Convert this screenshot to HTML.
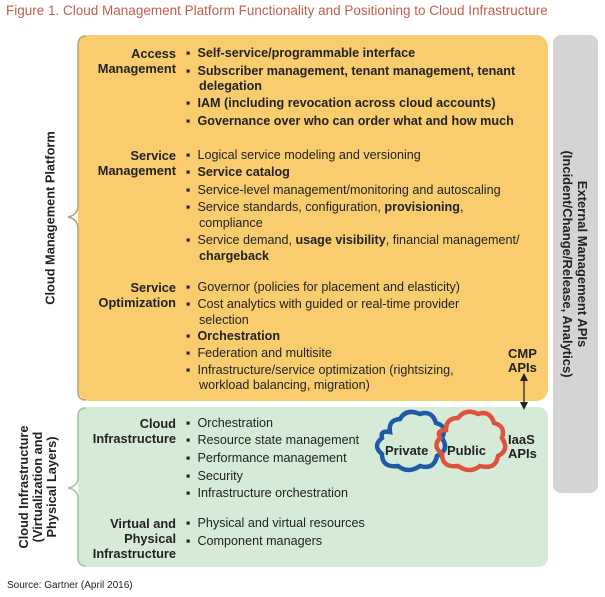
<!DOCTYPE html>
<html><head><meta charset="utf-8"><style>
body{margin:0;width:605px;height:597px;background:#fff;position:relative;overflow:hidden;font-family:"Liberation Sans",Arial,sans-serif;color:#222}
.a{position:absolute;white-space:nowrap;font-size:12.6px;line-height:15px}
.b{font-weight:bold}
.l{position:absolute;font-weight:bold;font-size:12.8px;line-height:15px;text-align:right;width:110px;left:66px}
</style></head><body>
<div class="a" style="left:6px;top:3px;font-size:13.5px;color:#c0604a">Figure 1. Cloud Management Platform Functionality and Positioning to Cloud Infrastructure</div>
<div style="position:absolute;left:78px;top:35px;width:470px;height:366px;background:#f9cc6e;border-radius:12px"></div>
<div style="position:absolute;left:78px;top:407px;width:470px;height:160px;background:#d5ebd8;border-radius:10px"></div>
<div style="position:absolute;left:553px;top:35px;width:45px;height:458px;background:#d4d4d6;border-radius:8px"></div>
<svg style="position:absolute;left:0;top:0" width="605" height="597">
<path d="M86 36 Q78 36 78 46 L78 205 Q78 215 68 217 Q78 219 78 229 L78 392 Q78 400 86 400" fill="none" stroke="#b8a070" stroke-width="1.5"/>
<path d="M86 408 Q78 408 78 416 L78 478 Q78 486 68 488 Q78 490 78 498 L78 558 Q78 566 86 566" fill="none" stroke="#a8bca8" stroke-width="1.5"/>
<line x1="524" y1="375" x2="524" y2="408" stroke="#222" stroke-width="1.3"/>
<path d="M520 381 L524 373 L528 381Z M520 402 L524 410 L528 402Z" fill="#222"/>
<path d="M390 432 Q388 420 400 419 Q406 408 420 414 Q432 410 436 423 Q448 426 442 438 Q450 450 437 456 Q434 470 420 466 Q408 474 398 466 Q382 468 382 454 Q372 446 382 438 Q380 430 390 432Z" fill="none" stroke="#1f5aa6" stroke-width="4.5"/>
<path d="M446 430 Q446 418 458 418 Q466 408 478 414 Q490 410 494 423 Q506 426 502 438 Q510 450 498 456 Q496 470 480 466 Q470 474 458 466 Q442 468 442 454 Q432 446 440 438 Q436 430 446 430Z" fill="none" stroke="#e0513e" stroke-width="4.5"/>
</svg>
<div class="a b" style="left:385px;top:443px;font-size:13px">Private</div>
<div class="a b" style="left:447px;top:443px;font-size:13px">Public</div>
<div class="a b" style="left:508px;top:347px;font-size:13px;text-align:center;line-height:14px">CMP<br>APIs</div>
<div class="a b" style="left:508px;top:433px;font-size:13px;line-height:14px">IaaS<br>APIs</div>
<div class="a b" style="left:575px;top:264px;font-size:13px;line-height:15px;text-align:center;transform:translate(-50%,-50%) rotate(90deg)">External Management APIs<br>(Incident/Change/Release, Analytics)</div>
<div class="a b" style="left:50px;top:218px;font-size:12.8px;transform:translate(-50%,-50%) rotate(-90deg)">Cloud Management Platform</div>
<div class="a b" style="left:38px;top:487px;font-size:12.8px;line-height:14px;text-align:center;transform:translate(-50%,-50%) rotate(-90deg)">Cloud Infrastructure<br>(Virtualization and<br>Physical Layers)</div>

<div class="l" style="top:46px">Access<br>Management</div>
<div class="a b" style="left:186px;top:46px">▪&nbsp; Self-service/programmable interface</div>
<div class="a b" style="left:186px;top:64px">▪&nbsp; Subscriber management, tenant management, tenant</div>
<div class="a b" style="left:199px;top:79px">delegation</div>
<div class="a b" style="left:186px;top:96px">▪&nbsp; IAM (including revocation across cloud accounts)</div>
<div class="a b" style="left:186px;top:114px">▪&nbsp; Governance over who can order what and how much</div>

<div class="l" style="top:148px">Service<br>Management</div>
<div class="a" style="left:186px;top:148px">▪&nbsp; Logical service modeling and versioning</div>
<div class="a" style="left:186px;top:165px">▪&nbsp; <b>Service catalog</b></div>
<div class="a" style="left:186px;top:183px">▪&nbsp; Service-level management/monitoring and autoscaling</div>
<div class="a" style="left:186px;top:200px">▪&nbsp; Service standards, configuration, <b>provisioning</b>,</div>
<div class="a" style="left:199px;top:216px">compliance</div>
<div class="a" style="left:186px;top:233px">▪&nbsp; Service demand, <b>usage visibility</b>, financial management/</div>
<div class="a b" style="left:199px;top:249px">chargeback</div>

<div class="l" style="top:280px">Service<br>Optimization</div>
<div class="a" style="left:186px;top:280px">▪&nbsp; Governor (policies for placement and elasticity)</div>
<div class="a" style="left:186px;top:297px">▪&nbsp; Cost analytics with guided or real-time provider</div>
<div class="a" style="left:199px;top:313px">selection</div>
<div class="a b" style="left:186px;top:329px">▪&nbsp; Orchestration</div>
<div class="a" style="left:186px;top:346px">▪&nbsp; Federation and multisite</div>
<div class="a" style="left:186px;top:363px">▪&nbsp; Infrastructure/service optimization (rightsizing,</div>
<div class="a" style="left:199px;top:378px">workload balancing, migration)</div>

<div class="l" style="top:416px">Cloud<br>Infrastructure</div>
<div class="a" style="left:186px;top:416px">▪&nbsp; Orchestration</div>
<div class="a" style="left:186px;top:433px">▪&nbsp; Resource state management</div>
<div class="a" style="left:186px;top:451px">▪&nbsp; Performance management</div>
<div class="a" style="left:186px;top:469px">▪&nbsp; Security</div>
<div class="a" style="left:186px;top:486px">▪&nbsp; Infrastructure orchestration</div>

<div class="l" style="top:516px">Virtual and<br>Physical<br>Infrastructure</div>
<div class="a" style="left:186px;top:516px">▪&nbsp; Physical and virtual resources</div>
<div class="a" style="left:186px;top:534px">▪&nbsp; Component managers</div>

<div class="a" style="left:7px;top:578px;font-size:10px">Source: Gartner (April 2016)</div>
</body></html>
